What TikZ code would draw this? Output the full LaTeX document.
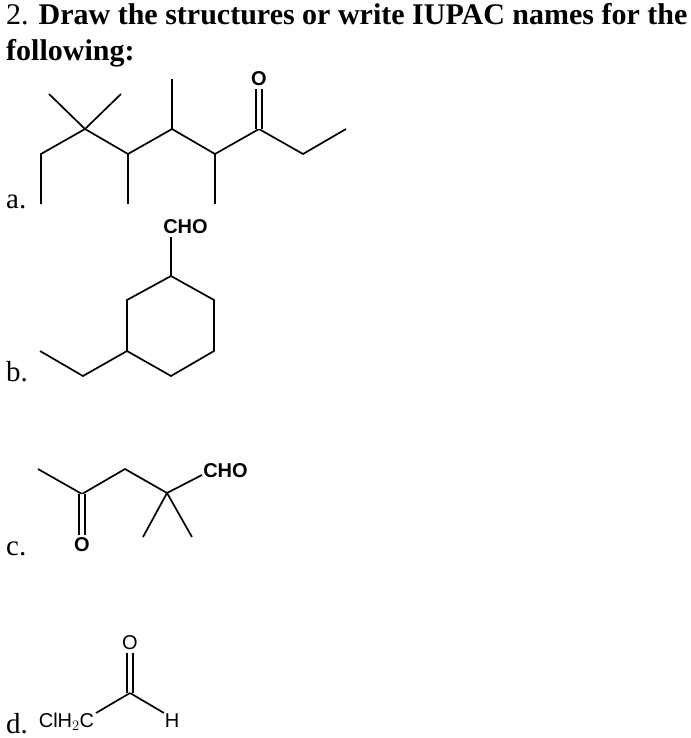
\documentclass[tikz,border=0pt]{standalone}
\usepackage{fontspec}
\setmainfont{Liberation Serif}
\newfontfamily\atomfont{Liberation Sans}
\usepackage{tikz}
\usetikzlibrary{positioning}
\tikzset{
Bond/.style={
	draw=black,
	line width=1.7pt
},
DoubleBond/.style={
	Bond,
	double=white,
	double distance=4.2pt,
	line width=1.6pt
},
Heading/.style={
	font=\fontsize{30}{34}\selectfont,
	anchor=base west,
	inner sep=0pt
},
Letter/.style={
	font=\fontsize{29}{32}\selectfont,
	anchor=base west,
	inner sep=0pt
},
BoldAtom/.style={
	font=\atomfont\bfseries\fontsize{20}{24}\selectfont,
	inner sep=1pt,
	outer sep=2pt
},
Atom/.style={
	font=\atomfont\fontsize{20}{24}\selectfont,
	inner sep=1pt,
	outer sep=2pt
}
}

\begin{document}
\begin{tikzpicture}[x=1pt, y=-1pt]
	\useasboundingbox (0,0) rectangle (690,738);

	\node[Heading] (line1) at (6,25) {2. \textbf{Draw the structures or write IUPAC names for the}};
	\node[Heading] (line2) at (6,61) {\textbf{following:}};

	% a
	\node[Letter] (la) at (6,208) {a.};
	\coordinate (a1) at (41,204);
	\coordinate (a2) at (41,154);
	\coordinate (a3) at (85,129);
	\coordinate (a3u) at (49,94);
	\coordinate (a3v) at (121,94);
	\coordinate (a4) at (128,154);
	\coordinate (a4d) at (128,204);
	\coordinate (a5) at (172,129);
	\coordinate (a5u) at (172,79);
	\coordinate (a6) at (215,154);
	\coordinate (a6d) at (215,204);
	\coordinate (a7) at (259,129);
	\coordinate (a8) at (303,154);
	\coordinate (a9) at (346,129);
	\node[BoldAtom] (aO) at (259,79) {O};
	\draw[Bond] (a1) -- (a2) -- (a3) -- (a4) -- (a5) -- (a6) -- (a7) -- (a8) -- (a9);
	\draw[Bond] (a3u) -- (a3);
	\draw[Bond] (a3v) -- (a3);
	\draw[Bond] (a4) -- (a4d);
	\draw[Bond] (a5) -- (a5u);
	\draw[Bond] (a6) -- (a6d);
	\draw[DoubleBond] (a7) -- (aO);

	% b
	\node[Letter] (lb) at (6,381) {b.};
	\node[BoldAtom] (bCHO) at (185.5,227) {CHO};
	\coordinate (b0) at (171,237);
	\coordinate (b1) at (171,276);
	\coordinate (b2) at (214,300);
	\coordinate (b3) at (214,351);
	\coordinate (b4) at (171,376);
	\coordinate (b5) at (127,351);
	\coordinate (b6) at (127,300);
	\coordinate (b7) at (83,376);
	\coordinate (b8) at (40,351);
	\draw[Bond] (b0) -- (b1);
	\draw[Bond] (b1) -- (b2) -- (b3) -- (b4) -- (b5) -- (b6) -- cycle;
	\draw[Bond] (b5) -- (b7) -- (b8);

	% c
	\node[Letter] (lc) at (6,555) {c.};
	\coordinate (c1) at (38,469);
	\coordinate (c2) at (82,494);
	\coordinate (c3) at (125,469);
	\coordinate (c4) at (167,493);
	\coordinate (c4u) at (143,537);
	\coordinate (c4v) at (192,537);
	\coordinate (c5) at (202,475);
	\node[BoldAtom] (cCHO) at (225.5,471) {CHO};
	\node[BoldAtom] (cO) at (82,545) {O};
	\draw[Bond] (c1) -- (c2) -- (c3) -- (c4) -- (c5);
	\draw[Bond] (c4) -- (c4u);
	\draw[Bond] (c4) -- (c4v);
	\draw[DoubleBond] (c2) -- (cO);

	% d
	\node[Letter] (ld) at (6,733) {d.};
	\node[Atom] (dO) at (130,643) {O};
	\coordinate (d1) at (130,693);
	\coordinate (d2) at (96,713);
	\coordinate (d3) at (164,713);
	\node[Atom] (dCl) at (66.5,722) {ClH$_2$C};
	\node[Atom] (dH) at (172,721) {H};
	\draw[DoubleBond] (d1) -- (dO);
	\draw[Bond] (d1) -- (d2);
	\draw[Bond] (d1) -- (d3);
\end{tikzpicture}
\end{document}
